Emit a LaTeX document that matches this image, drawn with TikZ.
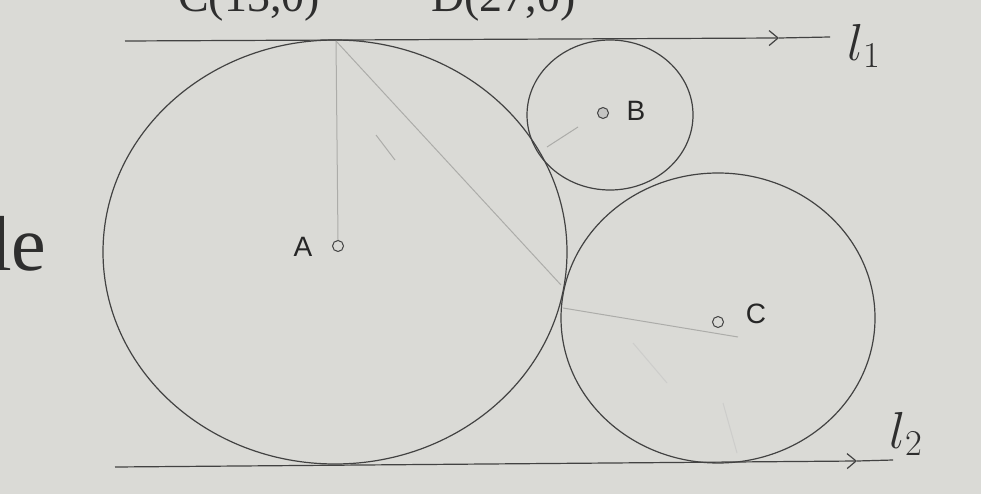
\documentclass[tikz,border=0pt]{standalone}
\usepackage{fix-cm}
\usepackage{fontspec}
\setmainfont{Liberation Serif}
\setsansfont{Liberation Sans}
\usetikzlibrary{arrows.meta}
\definecolor{paper}{RGB}{218,218,214}
\definecolor{ink}{RGB}{66,66,66}
\definecolor{pencil}{RGB}{172,172,169}

\begin{document}
\begin{tikzpicture}[x=1pt, y=-1pt,
    line/.style={ink, line width=1.2pt},
    pen/.style={pencil, line width=1pt},
    dot/.style={circle, draw=ink, line width=1pt, minimum size=11pt, inner sep=0pt},
    lbl/.style={font=\sffamily\fontsize{28}{30}\selectfont, text=black!85},
    big/.style={font=\fontsize{46}{50}\selectfont, text=black!82, inner sep=0pt, anchor=base west},
    tip/.style={-{Straight Barb[length=9pt, width=15pt, line width=1.2pt]}}]

    % Page
    \useasboundingbox (0,0) rectangle (981,494);
    \fill[paper] (0,0) rectangle (981,494);
    \clip (0,0) rectangle (981,494);

    % Cut-off text round the figure
    \node[big] (ptC) at (178,12) {C(13,0)};
    \node[big] (ptD) at (431,12) {D(27,0)};
    \node[big, font=\fontsize{78}{80}\selectfont] (word) at (-10,270) {le};

    % Centres and tangent points
    \coordinate (cA) at (335,252);
    \coordinate (cB) at (610,115);
    \coordinate (cC) at (718,318);
    \coordinate (tA) at (336,41);
    \coordinate (tAB) at (547,147);
    \coordinate (tAC) at (563,308);

    % Draw the lines
    \coordinate (l1s) at (125,41);
    \coordinate (l1m) at (779,38);
    \coordinate (l1e) at (830,37);
    \coordinate (l2s) at (115,467);
    \coordinate (l2m) at (857,461);
    \coordinate (l2e) at (893,460);
    \draw[line, tip] (l1s) -- (l1m);
    \draw[line] (l1m) -- (l1e);
    \draw[line, tip] (l2s) -- (l2m);
    \draw[line] (l2m) -- (l2e);
    \node[font=\fontsize{52}{56}\selectfont, text=black!82] (lab1) at (864,46) {$l_1$};
    \node[font=\fontsize{52}{56}\selectfont, text=black!82] (lab2) at (906,434) {$l_2$};

    % Draw the circles
    \draw[line] (cA) ellipse [x radius=232, y radius=212];
    \draw[line] (cB) ellipse [x radius=83, y radius=75];
    \draw[line] (cC) ellipse [x radius=157, y radius=145];

    % Centre marks and labels
    \node[dot] (A) at (338,246) {};
    \node[dot, fill=pencil!70] (B) at (603,113) {};
    \node[dot] (C) at (718,322) {};
    \node[lbl] (labA) at (303,247) {A};
    \node[lbl] (labB) at (636,111) {B};
    \node[lbl] (labC) at (756,314) {C};

    % Pencil marks
    \draw[pen] (tA) -- (A.north);
    \draw[pen] (tA) -- (561,285);
    \draw[pen] (376,135) -- (395,160);
    \draw[pen] (578,127) -- (tAB);
    \draw[pen] (tAC) -- (738,337);
    \draw[pen, pencil!60] (633,343) -- (667,383);
    \draw[pen, pencil!60] (723,403) -- (737,453);
\end{tikzpicture}
\end{document}
